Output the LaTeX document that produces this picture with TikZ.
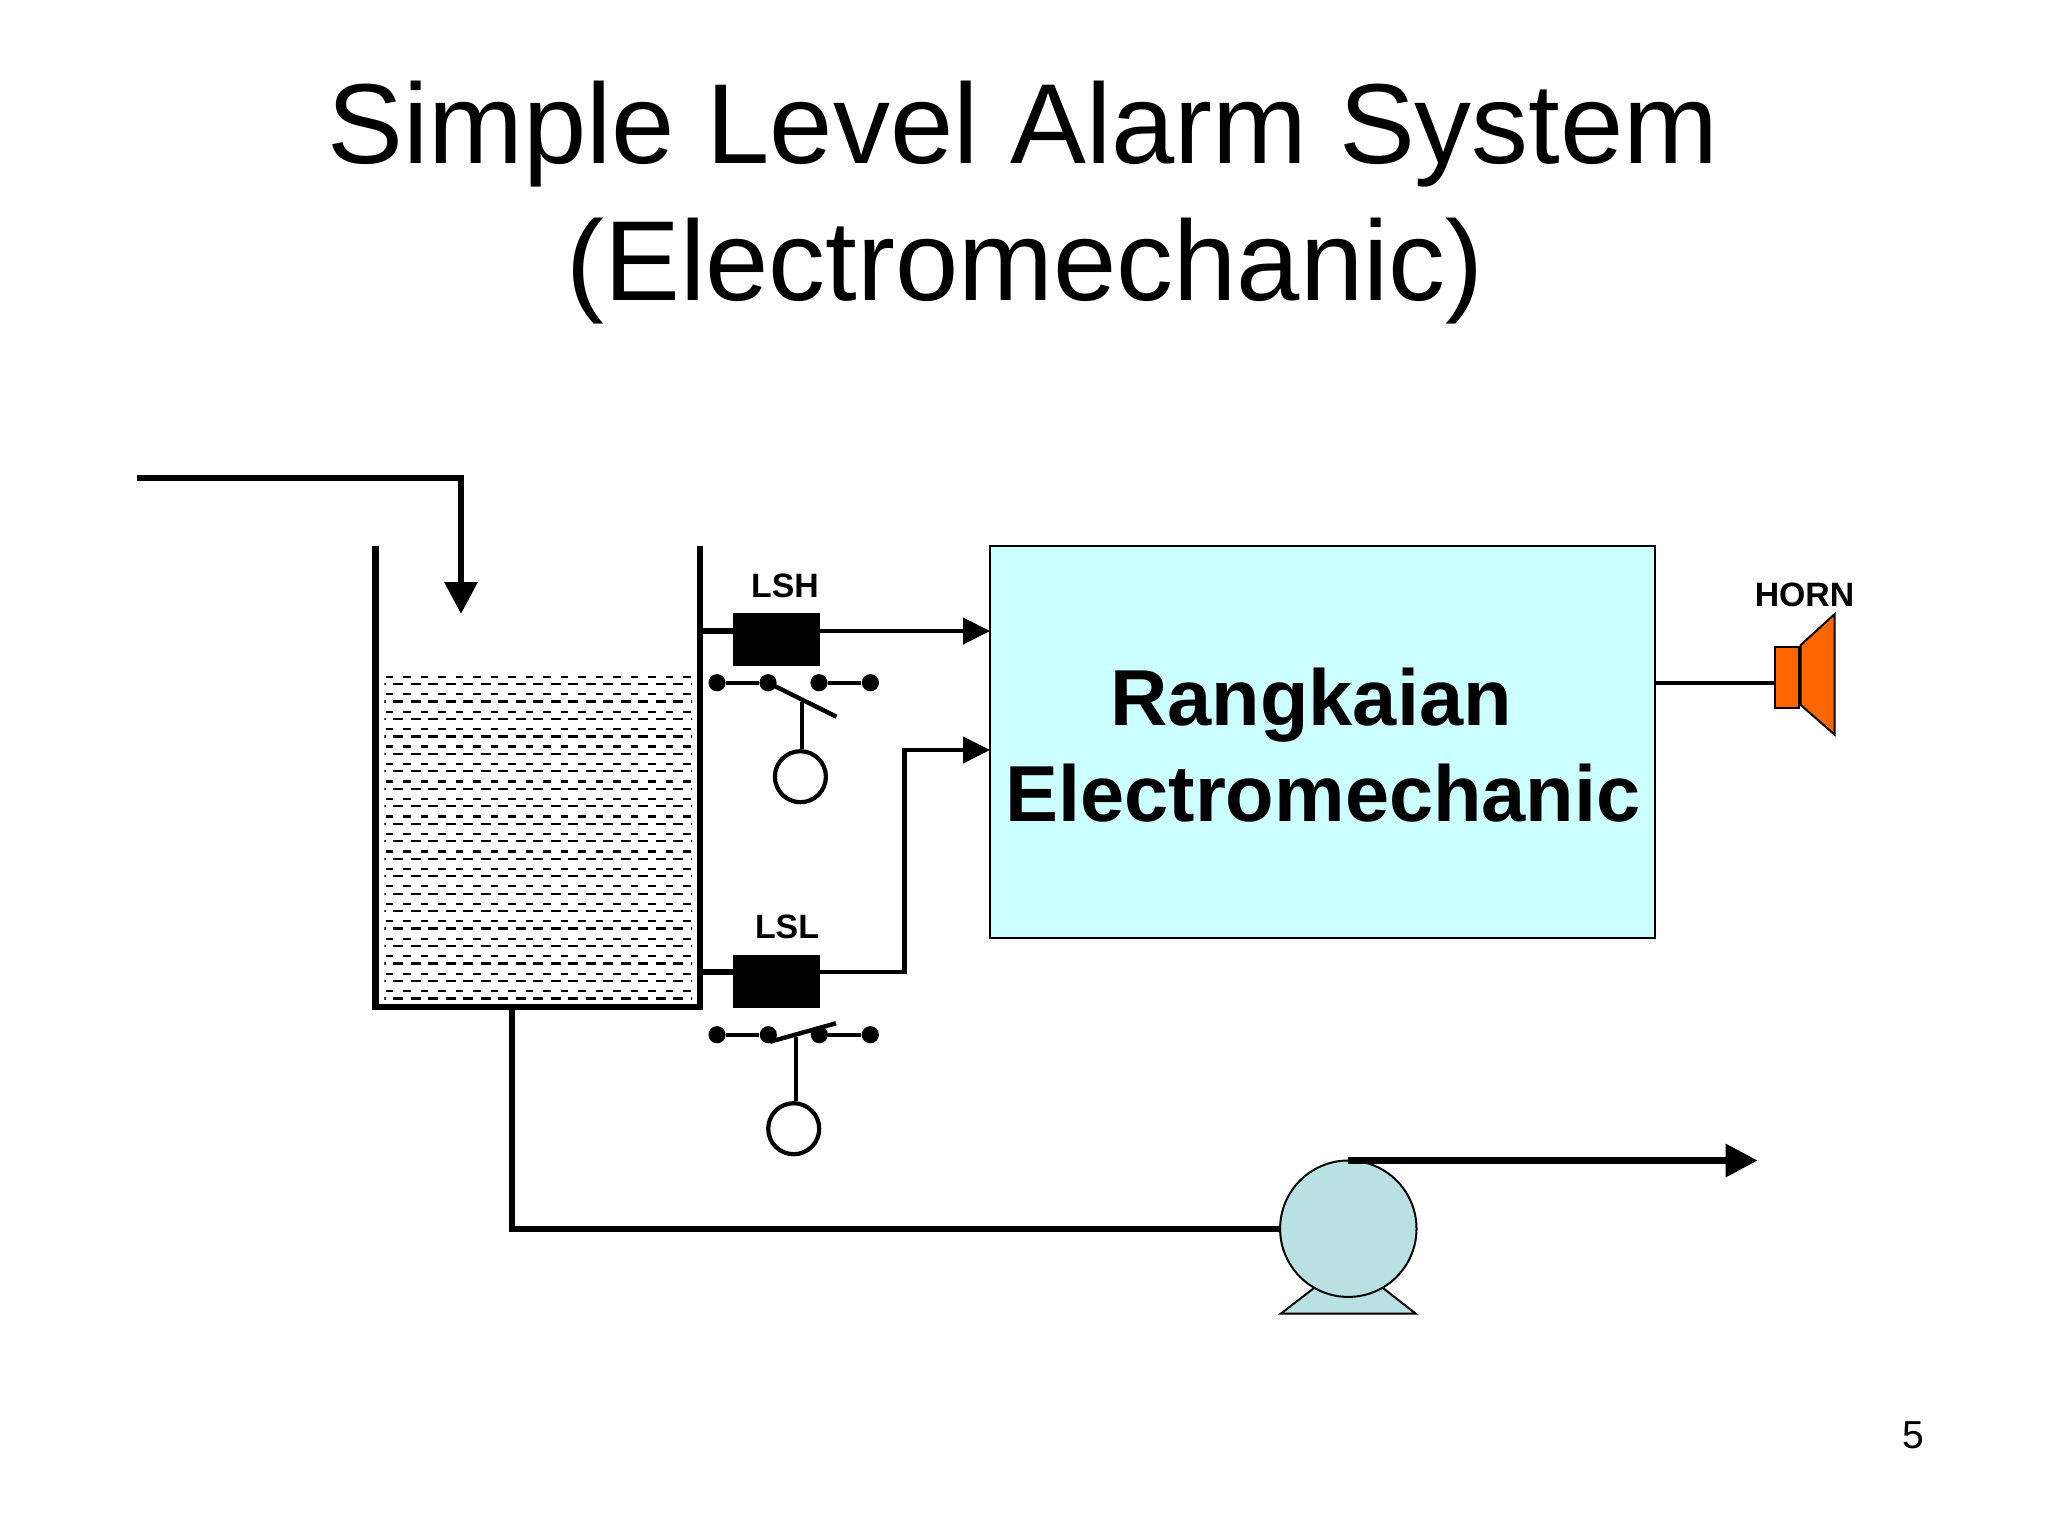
\documentclass[tikz,border=0pt]{standalone}
\usepackage{fontspec}
\setmainfont{Liberation Sans}
\usetikzlibrary{arrows.meta}
\definecolor{boxfill}{HTML}{CCFFFF}
\definecolor{pumpfill}{HTML}{B9E0E2}
\definecolor{hornfill}{HTML}{FF6600}
\tikzset{
  x=0.5pt,y=-0.5pt,
  pipe/.style={line width=3.2pt,line cap=butt,line join=miter},
  sig/.style={line width=2.2pt,line join=miter},
  thick sig/.style={line width=2.9pt},
  bigtip/.style={-{Triangle[length=16pt,width=16pt]}},
  smalltip/.style={-{Triangle[length=13.5pt,width=13pt]}},
  sensor/.style={fill=black,draw=none,minimum width=43.5pt,minimum height=26.5pt,inner sep=0pt},
  term/.style={circle,fill=black,draw=none,minimum size=8.6pt,inner sep=0pt},
  float/.style={circle,draw=black,line width=2.1pt,fill=white,minimum size=25.5pt,inner sep=0pt},
  lab/.style={font=\fontsize{16.9}{18}\selectfont\bfseries,inner sep=0pt},
  title/.style={font=\fontsize{56.9}{60}\selectfont,inner sep=0pt,anchor=base},
  dashA/.style={line width=1.1pt,dash pattern=on 3.85pt off 4.9pt},
  dashB/.style={line width=1.1pt,dash pattern=on 5pt off 3.75pt},
}
\begin{document}
\begin{tikzpicture}
\useasboundingbox (0,0) rectangle (2048,1536);
\fill[white] (0,0) rectangle (2048,1536);
% title
\node[title] (t1) at (1023,163) {Simple Level Alarm System};
\node[title] (t2) at (1025,300) {(Electromechanic)};
\node[font=\fontsize{19.5}{20}\selectfont,inner sep=0pt] (pg) at (1913.5,1435) {5};
% liquid
\begin{scope}
\clip (384.3,672) rectangle (692,1003);
\foreach \k in {0,...,18}{
  \pgfmathsetmacro{\ya}{676.7+17.47*\k}
  \pgfmathsetmacro{\yb}{684+17.47*\k}
  \draw[dashA] (385.7,\ya) -- (700,\ya);
  \draw[dashB] (375.5,\yb) -- (700,\yb);
  }
\end{scope}
% tank
\coordinate (tl) at (375.6,546);
\coordinate (tr) at (699.7,546);
\coordinate (bl) at (375.6,1006.7);
\coordinate (br) at (699.7,1006.7);
\draw[pipe,line join=miter] (tl) -- (bl) -- (br) -- (tr);
% inlet
\coordinate (in0) at (137,478);
\coordinate (in1) at (461,478);
\coordinate (in2) at (461,614);
\draw[pipe,bigtip] (in0) -- (in1) -- (in2);
% box
\node[draw=black,fill=boxfill,line width=1pt,minimum width=332.4pt,minimum height=196.2pt,inner sep=0pt] (box) at (1322.4,742.15) {};
\node[font=\fontsize{39.7}{44}\selectfont\bfseries,inner sep=0pt] (b1) at (1311,705.5) {Rangkaian};
\node[font=\fontsize{39.7}{44}\selectfont\bfseries,inner sep=0pt] (b2) at (1323,793) {Electromechanic};
% sensors
\node[sensor] (lsh) at (776.5,639.5) {};
\node[sensor] (lsl) at (776.5,981) {};
\node[lab] (lshl) at (785,585.5) {LSH};
\node[lab] (lsll) at (787,926.5) {LSL};
\coordinate (lshw) at (699.7,631);
\coordinate (lslw) at (699.7,972);
\coordinate (lshe) at (733,631);
\coordinate (lsle) at (733,972);
\coordinate (lshr) at (820,631);
\coordinate (lslr) at (820,972);
\coordinate (boxa) at (990,631);
\coordinate (boxb) at (990,750);
\coordinate (v1) at (904.5,972);
\coordinate (v2) at (904.5,750);
\draw[thick sig] (lshw) -- (lshe);
\draw[thick sig] (lslw) -- (lsle);
\draw[sig,smalltip] (lshr) -- (boxa);
\draw[sig,smalltip] (lslr) -- (v1) -- (v2) -- (boxb);
% LSH switch
\node[term] (a1) at (717,682.7) {};
\node[term] (a2) at (768,682.7) {};
\node[term] (a3) at (819,682.7) {};
\node[term] (a4) at (870.4,682.7) {};
\draw[sig] (a1) -- (a2);
\draw[sig] (a3) -- (a4);
\coordinate (a5) at (836.4,716.7);
\coordinate (a6) at (802,702);
\node[float] (fa) at (800.4,776.7) {};
\draw[sig] (a2.center) -- (a5);
\draw[sig] (a6) -- (a6 |- fa.north);
% LSL switch
\node[term] (c1) at (717,1034.7) {};
\node[term] (c2) at (768.3,1034.7) {};
\node[term] (c3) at (819.3,1034.7) {};
\node[term] (c4) at (870.3,1034.7) {};
\draw[sig] (c1) -- (c2);
\draw[sig] (c3) -- (c4);
\coordinate (c5) at (770,1041.7);
\coordinate (c6) at (836,1023.3);
\coordinate (c7) at (796,1036.7);
\node[float] (fc) at (793.7,1128.7) {};
\draw[sig] (c5) -- (c6);
\draw[sig] (c7) -- (c7 |- fc.north);
% pump
\coordinate (pb1) at (1314,1288);
\coordinate (pb2) at (1281,1313.5);
\coordinate (pb3) at (1415.5,1313.5);
\coordinate (pb4) at (1383,1288);
\filldraw[fill=pumpfill,draw=black,line width=1pt,line join=miter] (pb1) -- (pb2) -- (pb3) -- (pb4) -- cycle;
\node[circle,draw=black,fill=pumpfill,line width=1pt,minimum size=68.2pt,inner sep=0pt] (pump) at (1348.3,1228.7) {};
\coordinate (d0) at (511.8,1006.7);
\coordinate (d1) at (511.8,1228.7);
\draw[pipe] (d0) -- (d1) -- (pump.west);
\coordinate (o1) at (1348.3,1160.5);
\coordinate (o2) at (1757.6,1160.5);
\draw[pipe,bigtip] (o1) -- (o2);
% horn
\node[draw=black,fill=hornfill,line width=1pt,minimum width=12pt,minimum height=30.5pt,inner sep=0pt] (hr) at (1786.7,677.8) {};
\coordinate (h1) at (1800.7,645);
\coordinate (h2) at (1834.7,614);
\coordinate (h3) at (1834.7,734.7);
\coordinate (h4) at (1800.7,705);
\filldraw[fill=hornfill,draw=black,line width=1pt,line join=miter] (h1) -- (h2) -- (h3) -- (h4) -- cycle;
\node[lab] (hl) at (1804.5,594.5) {HORN};
\coordinate (bo) at (1655.7,682.7);
\coordinate (hi) at (1774.7,682.7);
\draw[sig] (bo) -- (hi);
\end{tikzpicture}
\end{document}
